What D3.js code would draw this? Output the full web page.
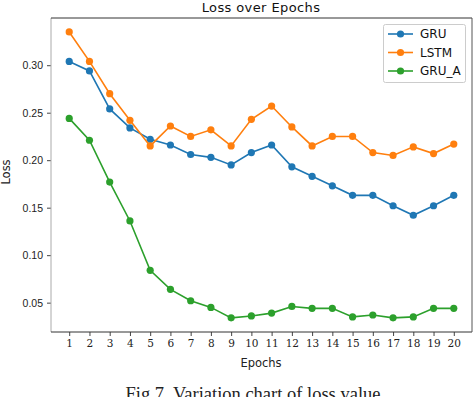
<!DOCTYPE html>
<html>
  <head>
    <meta charset="utf-8">
    <script src="https://d3js.org/d3.v7.min.js"></script>
    <style>
      body { margin: 0; background: #fff; }
      svg { display: block; font-family: "DejaVu Sans", sans-serif; }
    </style>
  </head>
  <body>
    <div id="chart"></div>
    <script>
      // data
      var epochs = [1,2,3,4,5,6,7,8,9,10,11,12,13,14,15,16,17,18,19,20]
      var gru = [0.304,0.294,0.254,0.234,0.222,0.216,0.206,0.203,0.195,0.208,
                 0.216,0.193,0.183,0.173,0.163,0.163,0.152,0.142,0.152,0.163]
      var lstm = [0.335,0.304,0.270,0.242,0.215,0.236,0.225,0.232,0.215,0.243,
                  0.257,0.235,0.215,0.225,0.225,0.208,0.205,0.214,0.207,0.217]
      var gruA = [0.244,0.221,0.177,0.136,0.084,0.064,0.052,0.045,0.034,0.036,
                  0.039,0.046,0.044,0.044,0.035,0.037,0.034,0.035,0.044,0.044]
      var yTicks = [0.05,0.10,0.15,0.20,0.25,0.30]
      var seriesNames = ['GRU','LSTM','GRU_A']
      var seriesColors = ['#1f77b4','#ff7f0e','#2ca02c']

      var width = 474, height = 397
      var plotL = 51, plotR = 472, plotT = 18, plotB = 332

      var svg = d3.select('#chart').append('svg')
        .attr('width', width)
        .attr('height', height)

      var x = d3.scaleLinear().domain([0.1, 20.9]).range([plotL, plotR])
      var y = d3.scaleLinear().domain([0.0191, 0.3497]).range([plotB, plotT])

      // axes
      var xAxis = svg.append('g')
        .attr('transform', 'translate(0,' + plotB + ')')
        .call(d3.axisBottom(x).tickValues(epochs).tickSize(4).tickPadding(4).tickFormat(d3.format('d')))
      xAxis.select('.domain').remove()
      xAxis.selectAll('text').attr('font-size', 10.5).attr('fill', '#222')
        .attr('font-family', '"DejaVu Serif", serif')
      xAxis.selectAll('line').attr('stroke', '#444')

      var yAxis = svg.append('g')
        .attr('transform', 'translate(' + plotL + ',0)')
        .call(d3.axisLeft(y).tickValues(yTicks).tickSize(4).tickPadding(4).tickFormat(d3.format('.2f')))
      yAxis.select('.domain').remove()
      yAxis.selectAll('text').attr('font-size', 10.5).attr('fill', '#222')
      yAxis.selectAll('line').attr('stroke', '#444')

      // frame
      svg.append('line').attr('x1', plotL).attr('x2', plotL).attr('y1', plotT).attr('y2', plotB)
        .attr('stroke', '#aaa').attr('stroke-width', 1)
      svg.append('line').attr('x1', plotL).attr('x2', plotR).attr('y1', plotT).attr('y2', plotT)
        .attr('stroke', '#333').attr('stroke-width', 1)
      svg.append('line').attr('x1', plotL).attr('x2', plotR).attr('y1', plotB).attr('y2', plotB)
        .attr('stroke', '#333').attr('stroke-width', 1)
      svg.append('line').attr('x1', plotR).attr('x2', plotR).attr('y1', plotT).attr('y2', plotB)
        .attr('stroke', '#555').attr('stroke-width', 1)

      // lines
      var allSeries = [gru, lstm, gruA]
      var line = d3.line()
        .x(function(d, i) { return x(epochs[i]) })
        .y(function(d) { return y(d) })

      allSeries.forEach(function(vals, k) {
        var g = svg.append('g')
        g.append('path')
          .attr('d', line(vals))
          .attr('fill', 'none')
          .attr('stroke', seriesColors[k])
          .attr('stroke-width', 1.6)
        g.selectAll('circle').data(vals).enter().append('circle')
          .attr('cx', function(d, i) { return x(epochs[i]) })
          .attr('cy', function(d) { return y(d) })
          .attr('r', 3.6)
          .attr('fill', seriesColors[k])
      })

      // legend
      var lg = svg.append('g')
      lg.append('rect')
        .attr('x', 383.5).attr('y', 24.5).attr('width', 82).attr('height', 58)
        .attr('rx', 2).attr('fill', '#fff').attr('stroke', '#ccc')
      seriesNames.forEach(function(name, k) {
        var ly = 34 + k * 18.5
        lg.append('line').attr('x1', 388).attr('x2', 413).attr('y1', ly).attr('y2', ly)
          .attr('stroke', seriesColors[k]).attr('stroke-width', 1.6)
        lg.append('circle').attr('cx', 400.5).attr('cy', ly).attr('r', 3.6).attr('fill', seriesColors[k])
        lg.append('text').attr('x', 420).attr('y', ly + 4.3).attr('font-size', 12)
          .attr('fill', '#111').text(name)
      })

      // titles
      svg.append('text').attr('x', 261).attr('y', 11.5).attr('text-anchor', 'middle')
        .attr('font-size', 13).attr('letter-spacing', 0.4).attr('fill', '#111').text('Loss over Epochs')
      svg.append('text').attr('x', 261).attr('y', 366.5).attr('text-anchor', 'middle')
        .attr('font-size', 11.5).attr('fill', '#222').text('Epochs')
      svg.append('text').attr('transform', 'translate(9.5,172) rotate(-90)').attr('text-anchor', 'middle')
        .attr('font-size', 11.5).attr('fill', '#222').text('Loss')
      svg.append('text').attr('x', 253).attr('y', 400).attr('text-anchor', 'middle')
        .attr('font-family', '"Liberation Serif", serif')
        .attr('font-size', 18.5).attr('fill', '#222').text('Fig.7. Variation chart of loss value')
    </script>
  </body>
</html>
